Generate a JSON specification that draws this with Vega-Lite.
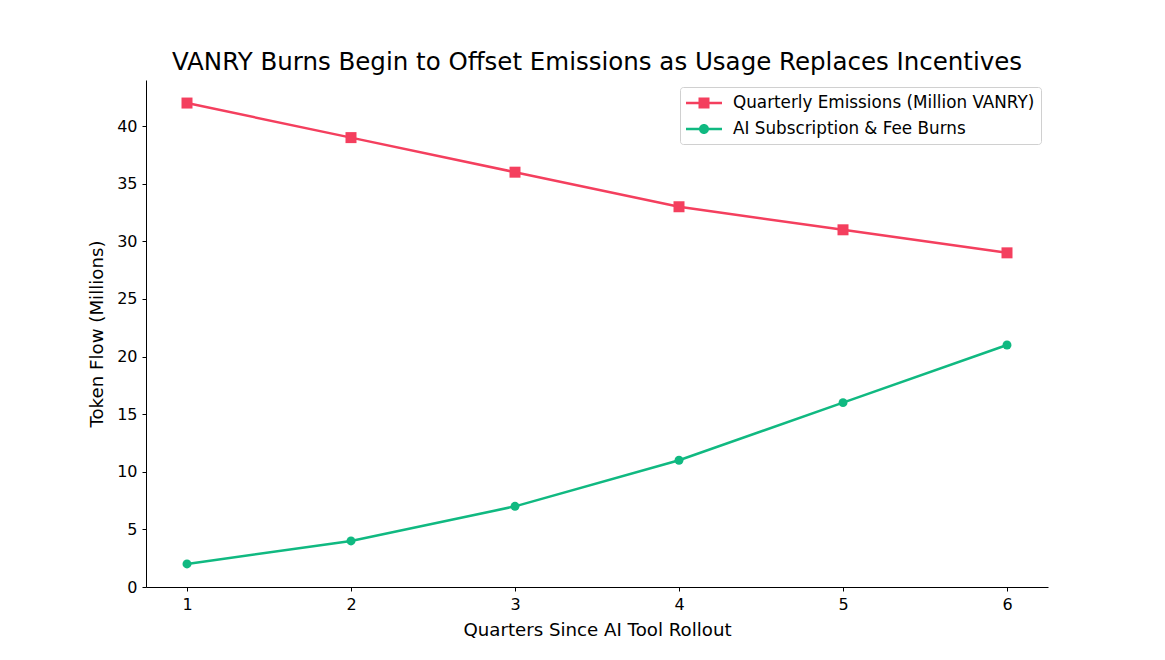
{
  "$schema": "https://vega.github.io/schema/vega-lite/v6.json",
  "width": 902,
  "height": 507,
  "autosize": {"type": "none"},
  "padding": {"left": 146, "top": 80, "right": 117, "bottom": 73},
  "background": "white",
  "config": {
    "font": "DejaVu Sans",
    "view": {"stroke": null},
    "axis": {
      "grid": false,
      "domainColor": "black",
      "domainWidth": 1,
      "tickColor": "black",
      "tickSize": 4,
      "tickWidth": 1,
      "labelFont": "DejaVu Sans",
      "labelFontSize": 16,
      "labelColor": "black",
      "titleFont": "DejaVu Sans",
      "titleFontSize": 18.2,
      "titleFontWeight": "normal",
      "titleColor": "black"
    }
  },
  "title": {
    "text": "VANRY Burns Begin to Offset Emissions as Usage Replaces Incentives",
    "font": "DejaVu Sans",
    "fontSize": 24.5,
    "fontWeight": "normal",
    "color": "black",
    "anchor": "middle",
    "offset": 5
  },
  "data": {
    "values": [
      {"quarter": 1, "series": "Quarterly Emissions (Million VANRY)", "value": 42},
      {"quarter": 2, "series": "Quarterly Emissions (Million VANRY)", "value": 39},
      {"quarter": 3, "series": "Quarterly Emissions (Million VANRY)", "value": 36},
      {"quarter": 4, "series": "Quarterly Emissions (Million VANRY)", "value": 33},
      {"quarter": 5, "series": "Quarterly Emissions (Million VANRY)", "value": 31},
      {"quarter": 6, "series": "Quarterly Emissions (Million VANRY)", "value": 29},
      {"quarter": 1, "series": "AI Subscription & Fee Burns", "value": 2},
      {"quarter": 2, "series": "AI Subscription & Fee Burns", "value": 4},
      {"quarter": 3, "series": "AI Subscription & Fee Burns", "value": 7},
      {"quarter": 4, "series": "AI Subscription & Fee Burns", "value": 11},
      {"quarter": 5, "series": "AI Subscription & Fee Burns", "value": 16},
      {"quarter": 6, "series": "AI Subscription & Fee Burns", "value": 21}
    ]
  },
  "encoding": {
    "x": {
      "field": "quarter",
      "type": "quantitative",
      "scale": {"domain": [0.75, 6.25], "nice": false, "zero": false},
      "axis": {"values": [1, 2, 3, 4, 5, 6], "format": "d", "title": "Quarters Since AI Tool Rollout", "titlePadding": 9, "labelPadding": 5}
    },
    "y": {
      "field": "value",
      "type": "quantitative",
      "scale": {"domain": [0, 44], "nice": false},
      "axis": {"values": [0, 5, 10, 15, 20, 25, 30, 35, 40], "title": "Token Flow (Millions)", "titlePadding": 10, "labelPadding": 5}
    },
    "color": {
      "field": "series",
      "type": "nominal",
      "scale": {
        "domain": ["Quarterly Emissions (Million VANRY)", "AI Subscription & Fee Burns"],
        "range": ["#F43F5E", "#10B981"]
      },
      "legend": {
        "title": null,
        "orient": "top-right",
        "offset": 7,
        "padding": 6,
        "strokeColor": "#d0d0d0",
        "fillColor": "white",
        "cornerRadius": 3,
        "labelFont": "DejaVu Sans",
        "labelFontSize": 16.8,
        "labelColor": "black",
        "labelOffset": 27,
        "labelLimit": 0,
        "symbolSize": 400,
        "rowPadding": 7,
        "encode": {
          "symbols": {
            "update": {
              "shape": {"signal": "datum.value == 'Quarterly Emissions (Million VANRY)' ? 'M-1,-0.125H2.6V0.125H-1Z M0.25,-0.55H1.35V0.55H0.25Z' : 'M-1,-0.125H2.6V0.125H-1Z M0.3,0A0.5,0.5 0 1,1 1.3,0A0.5,0.5 0 1,1 0.3,0Z'"},
              "fill": {"signal": "scale('color', datum.value)"},
              "strokeWidth": {"value": 0},
              "opacity": {"value": 1}
            }
          }
        }
      }
    }
  },
  "layer": [
    {
      "mark": {"type": "line", "strokeWidth": 2.5}
    },
    {
      "transform": [{"filter": "datum.series == 'Quarterly Emissions (Million VANRY)'"}],
      "mark": {"type": "point", "filled": true, "opacity": 1, "size": 121, "shape": "square"}
    },
    {
      "transform": [{"filter": "datum.series == 'AI Subscription & Fee Burns'"}],
      "mark": {"type": "point", "filled": true, "opacity": 1, "size": 80, "shape": "circle"}
    }
  ]
}
